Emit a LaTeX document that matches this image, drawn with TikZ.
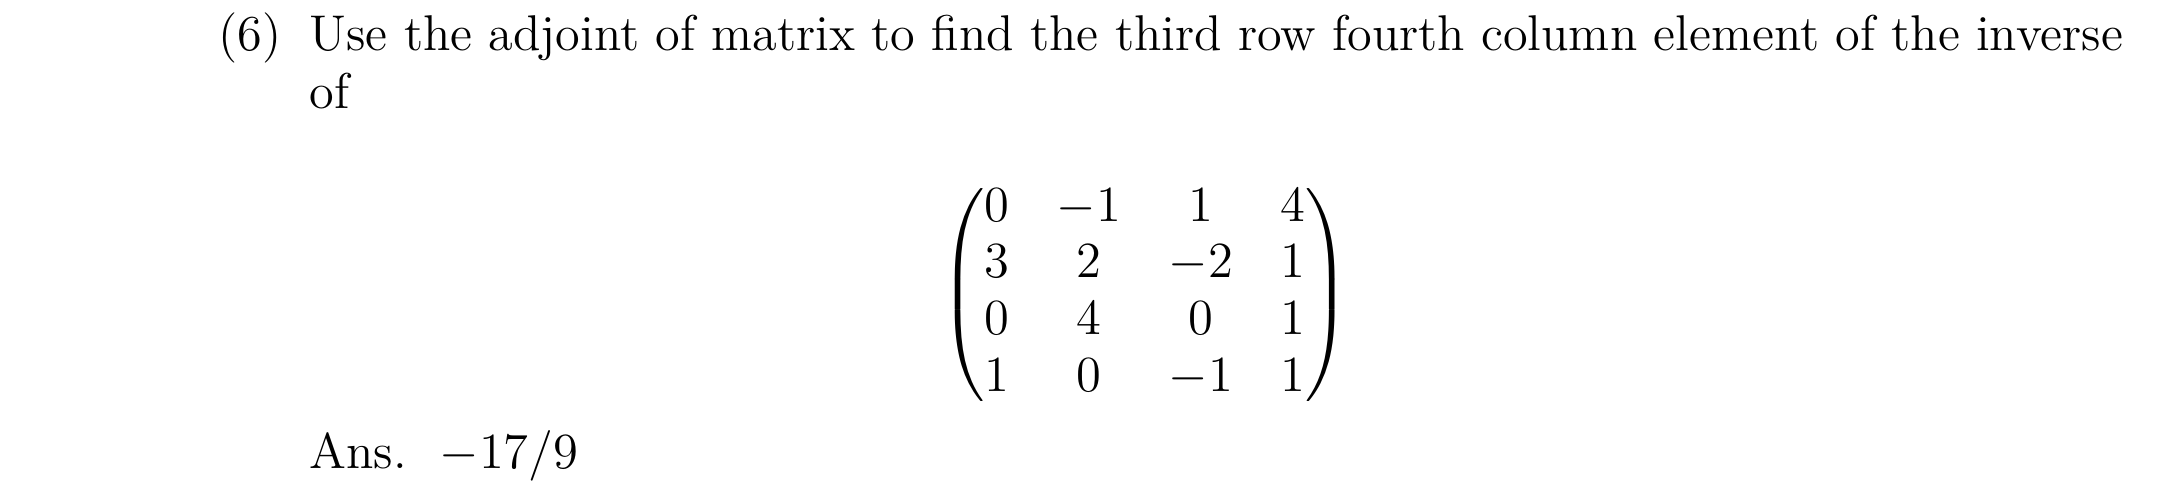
\documentclass[tikz,border=0pt]{standalone}
\usepackage{amsmath}
\begin{document}
\begin{tikzpicture}[txt/.style={anchor=base west,inner sep=0pt,font=\fontsize{14.3}{17}\selectfont}]
\useasboundingbox (0,0) rectangle (21.8,4.9);
\node[txt] (n) at (2.18,4.40) {(6)};
\node[txt] (l1) at (3.09,4.40) {Use the adjoint of matrix to find the third row fourth column element of the inverse};
\node[txt] (l2) at (3.09,3.82) {of};
\node[inner sep=0pt,font=\fontsize{14.3}{17}\selectfont] (m) at (11.45,1.95)
 {$\setlength\arraycolsep{6.8pt}\renewcommand\arraystretch{0.95}\begin{pmatrix}
 0 & -1 & 1 & 4\\ 3 & 2 & -2 & 1\\ 0 & 4 & 0 & 1\\ 1 & 0 & -1 & 1\end{pmatrix}$};
\node[txt] (ans) at (3.09,0.22) {Ans.\ \ $-17/9$};
\end{tikzpicture}
\end{document}
